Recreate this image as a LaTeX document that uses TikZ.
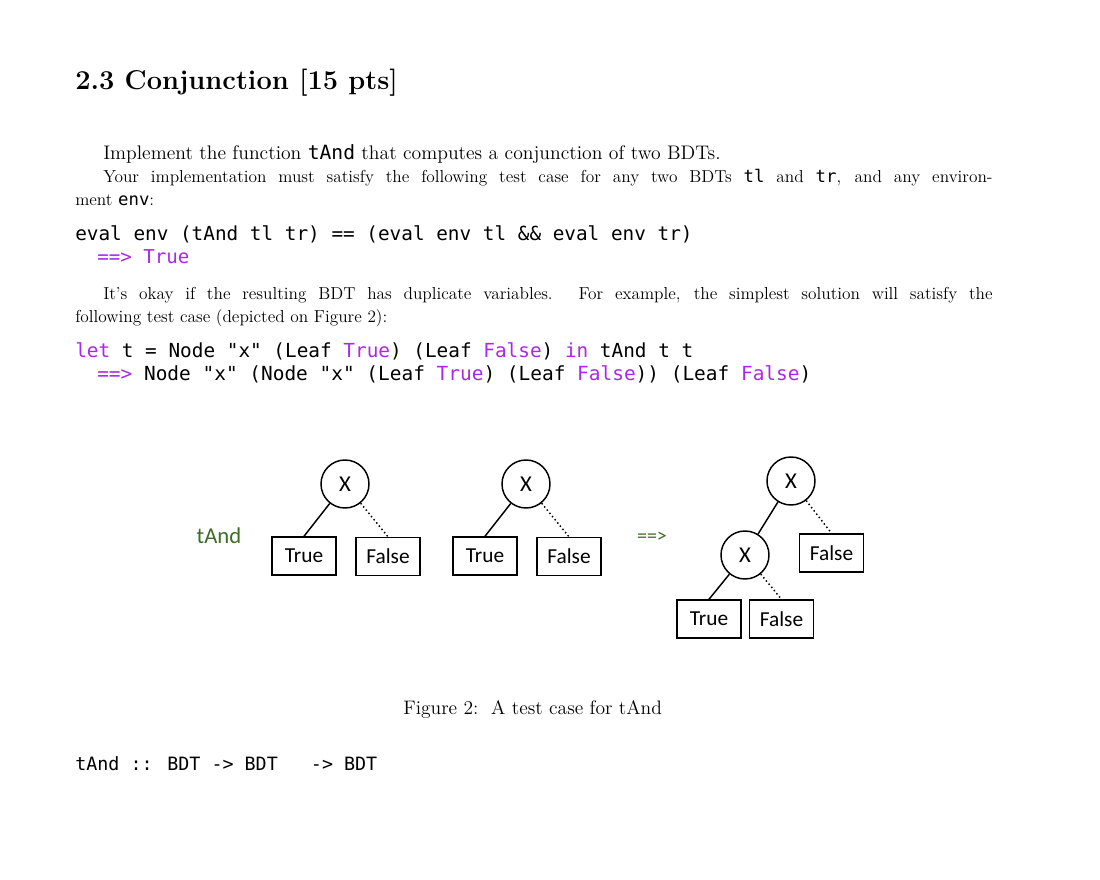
\documentclass[tikz,border=0pt]{standalone}
\usepackage{fontspec}
\newfontfamily\mono{DejaVu Sans Mono}
\newfontfamily\calfont{Carlito}
\definecolor{kw}{RGB}{170,40,235}
\definecolor{grn}{RGB}{60,110,40}
\newcommand{\cod}[1]{{\mono\fontsize{11.5}{13}\selectfont #1}}
\newcommand{\kk}[1]{\textcolor{kw}{#1}}
\begin{document}
\begin{tikzpicture}[x=0.75pt,y=-0.75pt,
  txt/.style={anchor=base west,inner sep=0pt,font=\fontsize{13}{16}\selectfont},
  code/.style={anchor=base west,inner sep=0pt},
  var/.style={circle,draw,line width=1.1pt,minimum size=36pt,inner sep=0pt,font=\calfont\fontsize{17}{17}\selectfont},
  leaf/.style={rectangle,draw,line width=1.1pt,minimum width=48pt,minimum height=28.5pt,inner sep=0pt,font=\calfont\fontsize{16}{16}\selectfont},
  hi/.style={line width=1.1pt},
  lo/.style={line width=1.1pt,dotted}]
\useasboundingbox[fill=white] (0,0) rectangle (1100,880);
\node[txt] (h) at (75,90) {\resizebox{242pt}{!}{\bfseries 2.3 Conjunction [15 pts]}};
\node[txt] (l1) at (103,160) {\resizebox{463pt}{!}{Implement the function {\mono tAnd} that computes a conjunction of two BDTs.}};
\node[txt] (l2) at (103,183) {\makebox[667pt][s]{Your implementation must satisfy the following test case for any two BDTs {\mono tl} and {\mono tr}, and any environ-}};
\node[txt] (l3) at (75,206) {ment {\mono env}:};
\node[code] (c1) at (75,241) {\resizebox{463pt}{!}{\cod{eval env (tAnd tl tr) == (eval env tl \&\& eval env tr)}}};
\node[code] (c2) at (97,264) {\resizebox{69pt}{!}{\cod{\kk{==> True}}}};
\node[txt] (l4) at (103,300) {\makebox[667pt][s]{It's okay if the resulting BDT has duplicate variables. For example, the simplest solution will satisfy the}};
\node[txt] (l5) at (75,323) {following test case (depicted on Figure 2):};
\node[code] (c3) at (75,358) {\resizebox{463.5pt}{!}{\cod{\kk{let} t = Node "x" (Leaf \kk{True}) (Leaf \kk{False}) \kk{in} tAnd t t}}};
\node[code] (c4) at (97,381) {\resizebox{535.5pt}{!}{\cod{\kk{==>} Node "x" (Node "x" (Leaf \kk{True}) (Leaf \kk{False})) (Leaf \kk{False})}}};
\node[txt] (cap) at (403,714) {\resizebox{194pt}{!}{Figure 2:\ \ A test case for tAnd}};
\node[code] (c5) at (75,770) {\resizebox{226.5pt}{!}{\cod{tAnd :: BDT -> BDT~~~-> BDT}}};
% diagram
\node[font=\calfont\fontsize{17}{17}\selectfont,text=grn] (op) at (219,536) {tAnd};
\node[font=\calfont\fontsize{15}{15}\selectfont,text=grn] (ar) at (652,537) {==>};
\node[var] (x1) at (345,484) {X};
\node[leaf] (t1) at (304,556) {True};
\node[leaf] (f1) at (388,556.5) {False};
\node[var] (x2) at (526,484) {X};
\node[leaf] (t2) at (485,556) {True};
\node[leaf] (f2) at (569,556.5) {False};
\node[var] (x3) at (791,481) {X};
\node[var] (x4) at (745,555) {X};
\node[leaf] (f3) at (831.5,553) {False};
\node[leaf] (t4) at (709,619) {True};
\node[leaf] (f4) at (781.5,619) {False};
\draw[hi] (x1) -- (t1.north);
\draw[lo] (x1) -- (f1.north);
\draw[hi] (x2) -- (t2.north);
\draw[lo] (x2) -- (f2.north);
\draw[hi] (x3) -- (x4);
\draw[lo] (x3) -- (f3.north);
\draw[hi] (x4) -- (t4.north);
\draw[lo] (x4) -- (f4.north);
\end{tikzpicture}
\end{document}
